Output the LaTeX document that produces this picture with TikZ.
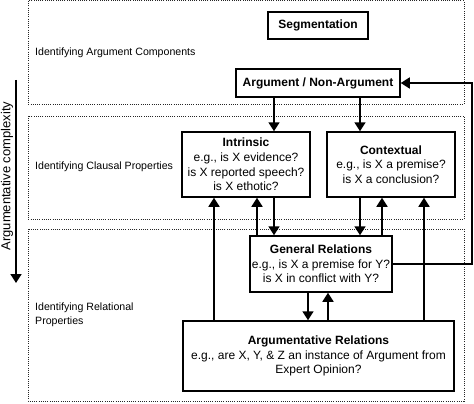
\documentclass[tikz,border=0pt]{standalone}
\usepackage{fontspec}
\setmainfont{Liberation Sans}
\usetikzlibrary{arrows.meta}
\begin{document}
\begin{tikzpicture}[x=1pt,y=-1pt,
  zone/.style={draw=black!85, line width=1pt, dash pattern=on 1pt off 1.2pt},
  stage/.style={draw, line width=1.5pt, fill=white, align=center, inner sep=0pt, font=\fontsize{12}{14.7}\selectfont},
  lbl/.style={anchor=west, align=left, inner sep=0pt, font=\fontsize{10.6}{14}\selectfont},
  arr/.style={line width=1.7pt, -{Triangle[width=11pt,length=9pt]}}]
\fill[white] (0,0) rectangle (474,404);
\useasboundingbox (0,0) rectangle (474,404);
\draw[zone] (28,1) rectangle (464,104);
\draw[zone] (28,116) rectangle (464,219);
\draw[zone] (28,229) rectangle (464,401);

\node[lbl] (l1) at (35,53) {Identifying Argument Components};
\node[lbl] (l2) at (35,167) {Identifying Clausal Properties};
\node[lbl] (l3) at (35,315) {Identifying Relational\\Properties};

\node[stage, minimum width=100pt, minimum height=27pt] (seg) at (318,25.5) {\textbf{Segmentation}};
\node[stage, minimum width=164pt, minimum height=28pt] (ana) at (318,83) {\textbf{Argument / Non-Argument}};
\node[stage, minimum width=128pt, minimum height=65pt] (int) at (246,164.5) {\textbf{Intrinsic}\\e.g., is X evidence?\\is X reported speech?\\is X ethotic?};
\node[stage, minimum width=128pt, minimum height=65pt] (ctx) at (391,164.5) {\textbf{Contextual}\\e.g., is X a premise?\\is X a conclusion?};
\node[stage, minimum width=142pt, minimum height=56pt] (gr) at (321,264) {\textbf{General Relations}\\e.g., is X a premise for Y?\\is X in conflict with Y?};
\node[stage, minimum width=271pt, minimum height=70pt] (ar) at (318.5,356) {\textbf{Argumentative Relations}\\e.g., are X, Y, \& Z an instance of Argument from\\Expert Opinion?};

\node[rotate=90, font=\fontsize{13}{15}\selectfont, inner sep=0pt] (cx) at (7,176) {Argumentative complexity};
\coordinate (ctop) at (16,80);
\coordinate (cbot) at (16,283);
\draw[arr] (ctop) -- (cbot);

\foreach \n/\x in {a/214, b/257, c/274, d/360, e/382, f/424, g/308, h/328, r/472}
  \coordinate (x\n) at (\x,0);

\draw[arr] (ana.south -| xc) -- (int.north -| xc);
\draw[arr] (ana.south -| xd) -- (ctx.north -| xd);
\draw[arr] (ar.north -| xa) -- (int.south -| xa);
\draw[arr] (gr.north -| xb) -- (int.south -| xb);
\draw[arr] (int.south -| xc) -- (gr.north -| xc);
\draw[arr] (ctx.south -| xd) -- (gr.north -| xd);
\draw[arr] (gr.north -| xe) -- (ctx.south -| xe);
\draw[arr] (ar.north -| xf) -- (ctx.south -| xf);
\draw[arr] (gr.south -| xg) -- (ar.north -| xg);
\draw[arr] (ar.north -| xh) -- (gr.south -| xh);
\draw[arr] (gr.east) -- (gr.east -| xr) |- (ana.east);
\end{tikzpicture}
\end{document}
